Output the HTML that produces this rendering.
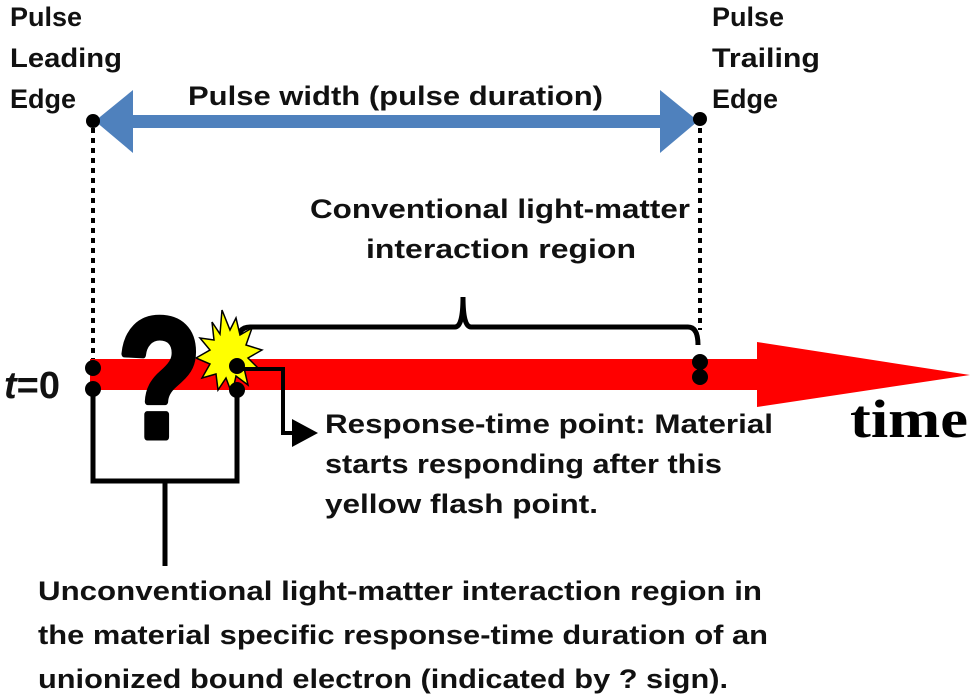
<!DOCTYPE html>
<html><head><meta charset="utf-8"><style>
html,body{margin:0;padding:0;background:#fff;}
svg{display:block;}
text{font-family:"Liberation Sans",sans-serif;font-weight:bold;fill:#111;}
</style></head><body>
<svg width="970" height="695" viewBox="0 0 970 695" xmlns="http://www.w3.org/2000/svg">
<line x1="93" y1="128" x2="93" y2="360" stroke="#000" stroke-width="4" stroke-dasharray="5,5"/>
<line x1="700" y1="128" x2="700" y2="330" stroke="#000" stroke-width="4" stroke-dasharray="5,5"/>
<polygon points="95,121 133,90 133,115 660,115 660,90 698,121 660,153 660,128 133,128 133,153" fill="#4f81bd"/>
<circle cx="93" cy="121" r="7" fill="#000"/>
<circle cx="700" cy="119" r="7" fill="#000"/>
<polygon points="90,359 757,359 757,342 970,375 757,407 757,390 90,390" fill="#ff0000"/>
<path d="M237,345 Q237,327 250,327 L455,327 Q463,327 463,297 Q463,327 471,327 L688,327 Q698,327 698,345" fill="none" stroke="#000" stroke-width="5"/>
<circle cx="700" cy="362" r="8" fill="#000"/>
<circle cx="700" cy="377" r="8" fill="#000"/>
<text x="0" y="0" font-size="170" transform="translate(118,437) scale(0.8,1)" style="font-weight:bold;fill:#000;stroke:#000;stroke-width:7;stroke-linejoin:round">?</text>
<polygon points="222,310 230,330 236,318 240,335 252,328 246,345 262,350 248,358 258,368 244,368 248,385 236,376 232,394 226,378 218,390 216,374 202,378 210,364 196,358 210,350 200,338 214,340 212,322 220,334" fill="#ffff00" stroke="#000" stroke-width="1.5"/>
<circle cx="93" cy="368" r="8" fill="#000"/>
<circle cx="93" cy="389" r="8" fill="#000"/>
<circle cx="237" cy="366" r="8" fill="#000"/>
<circle cx="237" cy="390" r="8" fill="#000"/>
<path d="M93,389 L93,481 L237,481 L237,390" fill="none" stroke="#000" stroke-width="5"/>
<line x1="165" y1="481" x2="165" y2="566" stroke="#000" stroke-width="5"/>
<path d="M240,369 L283,369 L283,433 L296,433" fill="none" stroke="#000" stroke-width="4"/>
<polygon points="292,419 318,433 292,447" fill="#000"/>
<text x="10" y="26" font-size="27">Pulse</text>
<text x="10" y="67" font-size="27" textLength="112" lengthAdjust="spacingAndGlyphs">Leading</text>
<text x="10" y="108" font-size="27">Edge</text>
<text x="712" y="26" font-size="27">Pulse</text>
<text x="712" y="67" font-size="27" textLength="108" lengthAdjust="spacingAndGlyphs">Trailing</text>
<text x="712" y="108" font-size="27">Edge</text>
<text x="188" y="105" font-size="27" textLength="415" lengthAdjust="spacingAndGlyphs">Pulse width (pulse duration)</text>
<text x="310" y="218" font-size="27" textLength="380" lengthAdjust="spacingAndGlyphs">Conventional light-matter</text>
<text x="366" y="258" font-size="27" textLength="270" lengthAdjust="spacingAndGlyphs">interaction  region</text>
<text x="4" y="398" font-size="38"><tspan font-style="italic">t</tspan>=0</text>
<text x="850" y="437" font-size="54" textLength="118" lengthAdjust="spacingAndGlyphs" style="font-family:'Liberation Serif',serif;font-weight:bold;fill:#000">time</text>
<text x="325" y="433" font-size="27" textLength="448" lengthAdjust="spacingAndGlyphs">Response-time point: Material</text>
<text x="325" y="473" font-size="27" textLength="397" lengthAdjust="spacingAndGlyphs">starts responding after this</text>
<text x="325" y="513" font-size="27" textLength="273" lengthAdjust="spacingAndGlyphs">yellow flash point.</text>
<text x="38" y="600" font-size="27" textLength="724" lengthAdjust="spacingAndGlyphs">Unconventional light-matter interaction region in</text>
<text x="38" y="644" font-size="27" textLength="730" lengthAdjust="spacingAndGlyphs">the material specific response-time duration of an</text>
<text x="38" y="688" font-size="27" textLength="690" lengthAdjust="spacingAndGlyphs">unionized bound electron (indicated by ? sign).</text>
</svg>
</body></html>
